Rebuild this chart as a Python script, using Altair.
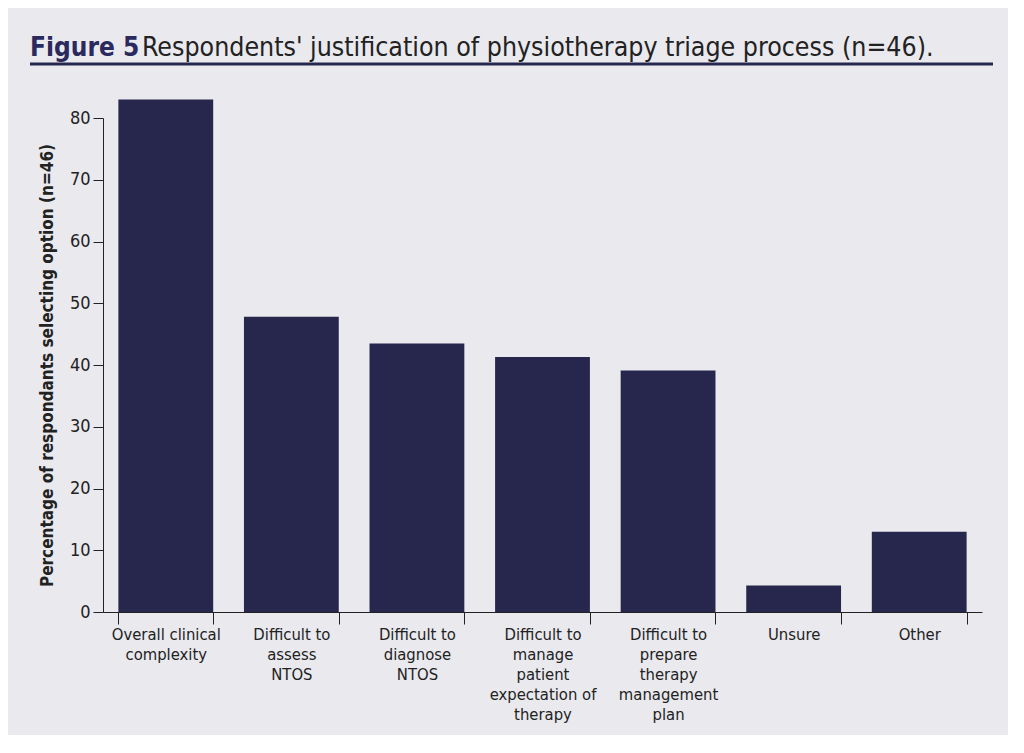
import altair as alt
import pandas as pd

categories = [
    "Overall clinical|complexity",
    "Difficult to|assess|NTOS",
    "Difficult to|diagnose|NTOS",
    "Difficult to|manage|patient|expectation of|therapy",
    "Difficult to|prepare|therapy|management|plan",
    "Unsure",
    "Other",
]
values = [83.0, 47.8, 43.5, 41.3, 39.1, 4.3, 13.0]
y_ticks = [0, 10, 20, 30, 40, 50, 60, 70, 80]

FONT = "DejaVu Sans Condensed"
NAVY = "#27264c"
TEXT = "#222222"
BG = "#e9e9ee"

df = pd.DataFrame({"category": categories, "value": values})

bars = alt.Chart(df).mark_bar(color=NAVY).encode(
    x=alt.X(
        "category:N",
        sort=categories,
        scale=alt.Scale(paddingInner=0.245, paddingOuter=0.1225),
        axis=alt.Axis(
            title=None,
            labelAngle=0,
            labelExpr="split(datum.label, '|')",
            labelFont=FONT,
            labelFontSize=16.5,
            labelLineHeight=20,
            labelColor=TEXT,
            labelBaseline="top",
            labelPadding=2,
            tickBand="extent",
            tickSize=12,
            tickColor=TEXT,
            domainColor=TEXT,
            labelLimit=200,
        ),
    ),
    y=alt.Y(
        "value:Q",
        scale=alt.Scale(domain=[0, 80], nice=False),
        axis=alt.Axis(
            title="Percentage of respondants selecting option (n=46)",
            values=y_ticks,
            grid=False,
            labelFont=FONT,
            labelFontSize=18,
            labelColor=TEXT,
            labelPadding=3,
            tickSize=10,
            tickColor=TEXT,
            domainColor=TEXT,
            titleFont=FONT,
            titleFontSize=17,
            titleFontWeight="bold",
            titleColor=TEXT,
            titlePadding=13,
        ),
    ),
)

title_df = pd.DataFrame({"a": [0]})
fig_label = alt.Chart(title_df).mark_text(
    text="Figure 5", font=FONT, fontSize=26, fontWeight="bold", color="#2b2a5e",
    align="left", baseline="alphabetic",
).encode(x=alt.value(-73), y=alt.value(-62))
fig_text = alt.Chart(title_df).mark_text(
    text="Respondents' justification of physiotherapy triage process (n=46).",
    font=FONT, fontSize=26.5, color=TEXT, align="left", baseline="alphabetic",
).encode(x=alt.value(39), y=alt.value(-62))
rule = alt.Chart(title_df).mark_rule(color=NAVY, strokeWidth=3).encode(
    x=alt.value(-73), x2=alt.value(890), y=alt.value(-54)
)

chart = alt.layer(bars, fig_label, fig_text, rule).properties(
    width=879,
    height=494,
    background=BG,
    padding={"left": 95, "top": 110, "right": 26, "bottom": 123},
    autosize=alt.AutoSizeParams(type="none"),
).configure_view(stroke=None)

chart.save("out.html", embed_options={"renderer": "svg", "actions": False})
